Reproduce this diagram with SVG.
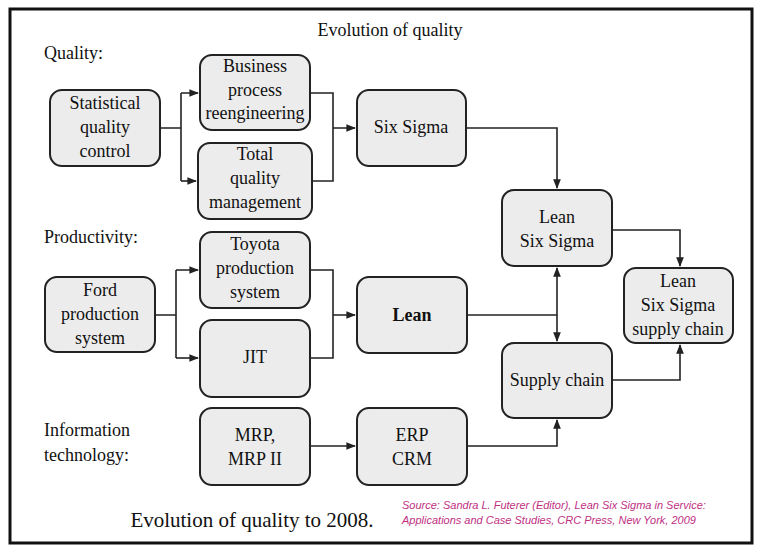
<svg xmlns="http://www.w3.org/2000/svg" width="760" height="553" viewBox="0 0 760 553" font-family="'Liberation Serif','Times New Roman','DejaVu Serif',serif">
<defs>
<style>
.n rect{fill:#ececec;stroke:#222;stroke-width:2}
.n text,.t{font-family:'Liberation Serif','Times New Roman','DejaVu Serif',serif;font-size:18px;fill:#111;text-anchor:middle}
.l{font-family:'Liberation Serif','Times New Roman','DejaVu Serif',serif;font-size:18px;fill:#111}
.c path{fill:none;stroke:#222;stroke-width:1.6}
.src{font-family:'Liberation Sans',Arial,sans-serif;font-size:11px;font-style:italic;fill:#c0307f}
</style>
<marker id="a" viewBox="0 0 10 10" refX="9" refY="5" markerWidth="6" markerHeight="6" orient="auto-start-reverse"><path d="M0,1L10,5L0,9z" fill="#222"/></marker>
</defs>
<rect x="0" y="0" width="760" height="553" fill="#fff"/>
<rect x="10" y="9" width="742" height="534" fill="#fff" stroke="#111" stroke-width="3"/>
<text class="t" x="390" y="36">Evolution of quality</text>
<text class="l" x="44" y="59">Quality:</text>
<text class="l" x="44" y="243">Productivity:</text>
<text class="l" x="44" y="436">Information</text>
<text class="l" x="44" y="461">technology:</text>
<text class="t" x="252" y="527" style="font-size:21px">Evolution of quality to 2008.</text>
<text class="src" x="402" y="509">Source: Sandra L. Futerer (Editor), Lean Six Sigma in Service:</text>
<text class="src" x="402" y="524">Applications and Case Studies, CRC Press, New York, 2009</text>

<g class="c">
<path d="M160,128H181M181,93V181M181,93H198" marker-end="url(#a)"/>
<path d="M181,181H196" marker-end="url(#a)"/>
<path d="M310,93H333V181H312M333,128H355" marker-end="url(#a)"/>
<path d="M466,128H557V188" marker-end="url(#a)"/>
<path d="M155,315H176M176,270V358M176,270H198" marker-end="url(#a)"/>
<path d="M176,358H198" marker-end="url(#a)"/>
<path d="M310,270H333V358H310M333,315H355" marker-end="url(#a)"/>
<path d="M467,315H557"/>
<path d="M557,268V341" marker-start="url(#a)" marker-end="url(#a)"/>
<path d="M612,230H680V266" marker-end="url(#a)"/>
<path d="M612,380H680V345" marker-end="url(#a)"/>
<path d="M310,446H355" marker-end="url(#a)"/>
<path d="M467,446H557V420" marker-end="url(#a)"/>
</g>

<g id="sqc" class="n"><rect x="50" y="90" width="110" height="76" rx="12"/><text x="105" y="109">Statistical</text><text x="105" y="133">quality</text><text x="105" y="157">control</text></g>
<g id="bpr" class="n"><rect x="200" y="55" width="110" height="75" rx="12"/><text x="255" y="72">Business</text><text x="255" y="96">process</text><text x="255" y="119">reengineering</text></g>
<g id="tqm" class="n"><rect x="198" y="143" width="114" height="76" rx="12"/><text x="255" y="160">Total</text><text x="255" y="184">quality</text><text x="255" y="208">management</text></g>
<g id="sixsigma" class="n"><rect x="357" y="90" width="109" height="76" rx="12"/><text x="411" y="133">Six Sigma</text></g>
<g id="lss" class="n"><rect x="502" y="190" width="110" height="76" rx="12"/><text x="557" y="223">Lean</text><text x="557" y="247">Six Sigma</text></g>
<g id="lsssc" class="n"><rect x="624" y="268" width="109" height="75" rx="12"/><text x="678" y="287">Lean</text><text x="678" y="311">Six Sigma</text><text x="678" y="335">supply chain</text></g>
<g id="ford" class="n"><rect x="45" y="277" width="110" height="75" rx="12"/><text x="100" y="296">Ford</text><text x="100" y="320">production</text><text x="100" y="344">system</text></g>
<g id="toyota" class="n"><rect x="200" y="232" width="110" height="76" rx="12"/><text x="255" y="250">Toyota</text><text x="255" y="274">production</text><text x="255" y="298">system</text></g>
<g id="jit" class="n"><rect x="200" y="320" width="110" height="77" rx="12"/><text x="255" y="363">JIT</text></g>
<g id="lean" class="n"><rect x="357" y="277" width="110" height="76" rx="12"/><text x="412" y="321" font-weight="bold">Lean</text></g>
<g id="sc" class="n"><rect x="502" y="343" width="110" height="75" rx="12"/><text x="557" y="386">Supply chain</text></g>
<g id="mrp" class="n"><rect x="200" y="408" width="110" height="77" rx="12"/><text x="255" y="441">MRP,</text><text x="255" y="465">MRP II</text></g>
<g id="erp" class="n"><rect x="357" y="408" width="110" height="77" rx="12"/><text x="412" y="441">ERP</text><text x="412" y="465">CRM</text></g>
</svg>
